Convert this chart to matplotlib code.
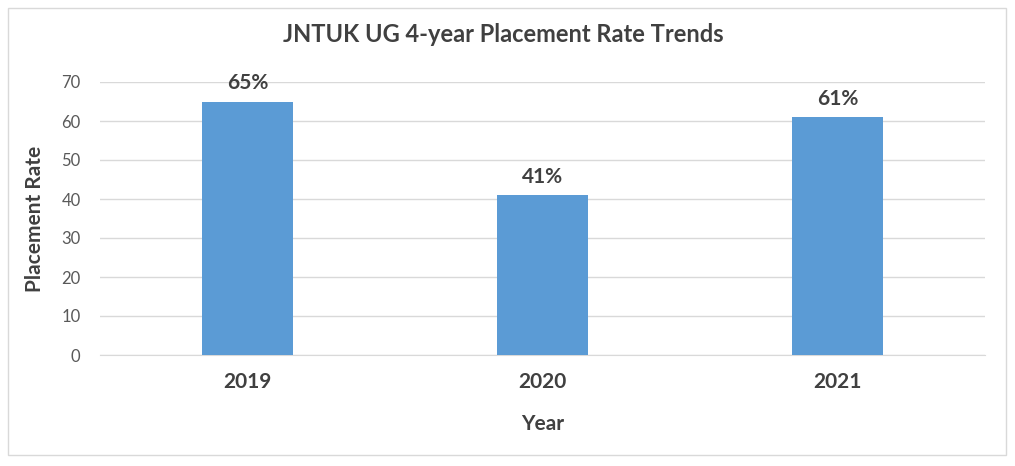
import matplotlib
matplotlib.use("Agg")
import matplotlib.pyplot as plt
from matplotlib.patches import Rectangle

years = ["2019", "2020", "2021"]
rates = [65, 41, 61]
labels = ["65%", "41%", "61%"]
yticks = [0, 10, 20, 30, 40, 50, 60, 70]

plt.rcParams['font.family'] = ['Lato', 'DejaVu Sans']
W, H = 1015, 466
fig = plt.figure(figsize=(W/100, H/100), dpi=100)
fig.patches.append(Rectangle((8/W, 11/H), 998/W, 447/H, transform=fig.transFigure,
                             fill=False, edgecolor='#d9d9d9', lw=1))
ax = fig.add_axes([100/W, 1-355/H, 885/W, 273/H])
x = range(len(years))
ax.bar(x, rates, width=0.31, color='#5B9BD5', zorder=3)
for i, (v, l) in enumerate(zip(rates, labels)):
    ax.text(i, v + 2.2, l, ha='center', va='bottom', fontsize=15, fontweight='bold', color='#404040')
ax.set_xlim(-0.5, 2.5)
ax.set_ylim(0, 70)
ax.set_yticks(yticks)
ax.set_xticks(list(x))
ax.set_xticklabels(years, fontsize=15, fontweight='bold', color='#404040')
ax.tick_params(axis='y', labelsize=12, colors='#595959', length=0, pad=14)
ax.tick_params(axis='x', length=0, pad=12)
ax.grid(axis='y', color='#d9d9d9', lw=1, zorder=0)
for s in ['top', 'right', 'left']:
    ax.spines[s].set_visible(False)
ax.spines['bottom'].set_color('#d9d9d9')
ax.set_xlabel('Year', fontsize=15, fontweight='bold', color='#404040', labelpad=16)
ax.set_ylabel('Placement Rate', fontsize=15, fontweight='bold', color='#404040', labelpad=12)
fig.text(503/W, 1-35/H, 'JNTUK UG 4-year Placement Rate Trends', ha='center', va='center',
         fontsize=17, fontweight='bold', color='#404040')
fig.savefig('out.png', dpi=100)
